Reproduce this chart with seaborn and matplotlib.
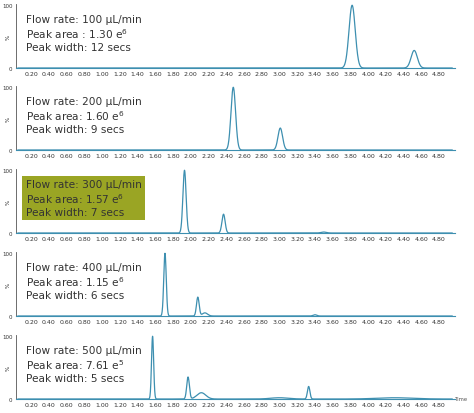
import numpy as np
import pandas as pd
import seaborn as sns
import matplotlib.pyplot as plt

# Peak data per run: retention time (min), height (%), sigma (min)
flow_labels = ['Flow rate: 100 µL/min\nPeak area : 1.30 e$^6$\nPeak width: 12 secs',
               'Flow rate: 200 µL/min\nPeak area: 1.60 e$^6$\nPeak width: 9 secs',
               'Flow rate: 300 µL/min\nPeak area: 1.57 e$^6$\nPeak width: 7 secs',
               'Flow rate: 400 µL/min\nPeak area: 1.15 e$^6$\nPeak width: 6 secs',
               'Flow rate: 500 µL/min\nPeak area: 7.61 e$^5$\nPeak width: 5 secs']
peak_times = [[3.82, 4.52], [2.48, 3.01], [1.93, 2.37, 3.50],
              [1.71, 2.08, 2.16, 3.40], [1.57, 1.97, 2.12, 3.33, 3.00, 4.30]]
peak_heights = [[100, 28], [100, 35], [100, 30, 1.5],
                [100, 30, 5, 2], [100, 35, 10, 20, 2, 2]]
peak_sigmas = [[0.035, 0.035], [0.026, 0.026], [0.018, 0.018, 0.03],
               [0.014, 0.015, 0.03, 0.02], [0.012, 0.015, 0.05, 0.014, 0.1, 0.2]]
tick_vals = np.round(np.arange(0.2, 4.81, 0.2), 2)

sns.set_style('white')
plt.rcParams['font.family'] = ['DejaVu Sans']
fig = plt.figure(figsize=(4.74, 4.14), dpi=100)
W, H = 474, 414
x0, x1 = 16, 455
zero_y = [69, 151, 234, 317, 400]
t = np.linspace(0.05, 4.95, 2000)

for i in range(5):
    y = np.zeros_like(t)
    for c, h, s in zip(peak_times[i], peak_heights[i], peak_sigmas[i]):
        y += h * np.exp(-0.5 * ((t - c) / s) ** 2)
    df = pd.DataFrame({'time': t, 'pct': y})
    ax = fig.add_axes([x0 / W, 1 - zero_y[i] / H, (x1 - x0) / W, 64 / H])
    sns.lineplot(data=df, x='time', y='pct', ax=ax, color='#3d8fb0', linewidth=0.9)
    ax.set_xlim(0.03, 4.98)
    ax.set_ylim(0, 102)
    ax.set_xticks(tick_vals)
    ax.set_xticklabels([f'{v:.2f}' for v in tick_vals], fontsize=4.5, color='#333333')
    ax.set_yticks([0, 100])
    ax.set_yticklabels(['0', '100'], fontsize=4, color='#333333')
    ax.set_xlabel('')
    ax.set_ylabel('%', fontsize=4, rotation=90, labelpad=0)
    ax.yaxis.set_label_coords(-0.012, 0.5)
    for side in ['top', 'right']:
        ax.spines[side].set_visible(False)
    ax.spines['bottom'].set_color('#3d8fb0')
    ax.spines['left'].set_color('#555555')
    ax.spines['left'].set_linewidth(0.6)
    ax.tick_params(axis='both', length=2, width=0.5, pad=0.5, direction='out')
    ax.tick_params(axis='x', colors='#3d8fb0', labelcolor='#333333')
    bbox = None
    if i == 2:
        bbox = dict(boxstyle='square,pad=0.3', facecolor='#9aa524', edgecolor='none')
    ax.text(0.022, 0.84, flow_labels[i], transform=ax.transAxes, fontsize=7.6,
            va='top', ha='left', color='#333333', linespacing=1.2, bbox=bbox)
    if i == 4:
        ax.text(1.0, 0.0, 'Time', transform=ax.transAxes, fontsize=3.8,
                va='center', color='#555555')

fig.savefig('out.png', dpi=100)
